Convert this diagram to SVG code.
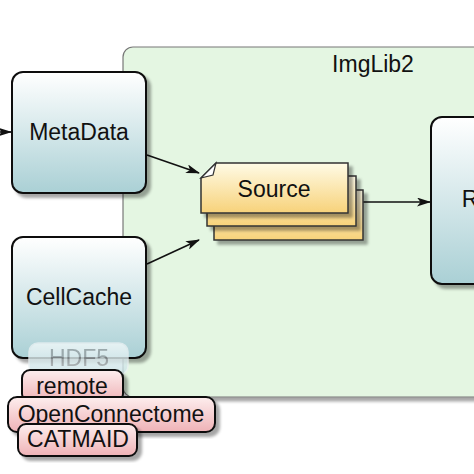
<svg xmlns="http://www.w3.org/2000/svg" width="474" height="474" viewBox="0 0 474 474">
<defs>
<linearGradient id="gBlue" x1="0" y1="0" x2="0" y2="1">
<stop offset="0" stop-color="#ffffff"/>
<stop offset="1" stop-color="#aad0d5"/>
</linearGradient>
<linearGradient id="gHdf" x1="0" y1="0" x2="0" y2="1">
<stop offset="0" stop-color="#f4fafb"/>
<stop offset="1" stop-color="#c6e0e4"/>
</linearGradient>
<linearGradient id="gPink" x1="0" y1="0" x2="0" y2="1">
<stop offset="0" stop-color="#fdeeee"/>
<stop offset="1" stop-color="#efb2b6"/>
</linearGradient>
<linearGradient id="gYel" x1="0" y1="0" x2="0" y2="1">
<stop offset="0" stop-color="#fffbe6"/>
<stop offset="1" stop-color="#f7d27a"/>
</linearGradient>
<marker id="arr" viewBox="0 0 14 9" refX="13" refY="4.5" markerWidth="14" markerHeight="9" markerUnits="userSpaceOnUse" orient="auto">
<path d="M0,0 L14,4.5 L0,9 L3.5,4.5 Z" fill="#111"/>
</marker>
<filter id="sh" x="-10%" y="-10%" width="130%" height="130%">
<feGaussianBlur in="SourceAlpha" stdDeviation="1.5"/>
<feOffset dx="4" dy="4"/>
<feComponentTransfer><feFuncA type="linear" slope="0.35"/></feComponentTransfer>
<feMerge><feMergeNode/><feMergeNode in="SourceGraphic"/></feMerge>
</filter>
</defs>
<style>
.lbl{font-family:"Liberation Sans",Arial,Helvetica,sans-serif;font-size:23px;fill:#111;text-anchor:middle}
.box{stroke:#111;stroke-width:2}
.conn{stroke:#111;stroke-width:1.6;fill:none;marker-end:url(#arr)}
</style>
<rect width="474" height="474" fill="#ffffff"/>

<g id="imglib2">
<rect x="123" y="47" width="370" height="350" rx="10" fill="#e4f6e2" stroke="#777" stroke-width="1.2" filter="url(#sh)"/>
<text class="lbl" x="373" y="72">ImgLib2</text>
</g>

<g id="connectors">
<line class="conn" x1="0" y1="132" x2="11" y2="132"/>
<line class="conn" x1="147" y1="155" x2="199" y2="173"/>
<line class="conn" x1="147" y1="264" x2="199" y2="240"/>
<line class="conn" x1="363" y1="202" x2="430" y2="202"/>
</g>

<g id="metadata">
<rect class="box" x="12" y="72" width="134" height="121" rx="11" fill="url(#gBlue)" filter="url(#sh)"/>
<text class="lbl" x="79" y="140">MetaData</text>
</g>

<g id="cellcache">
<rect class="box" x="12" y="237" width="134" height="121" rx="11" fill="url(#gBlue)" filter="url(#sh)"/>
<text class="lbl" x="79" y="305">CellCache</text>
</g>

<g id="source">
<g filter="url(#sh)">
<rect x="214" y="190" width="149" height="50" fill="url(#gYel)" stroke="#333" stroke-width="1.5"/>
</g>
<g filter="url(#sh)">
<rect x="207" y="176" width="149" height="50" fill="url(#gYel)" stroke="#333" stroke-width="1.5"/>
</g>
<g filter="url(#sh)">
<path d="M216,163 H348 V213 H201 V178 Z" fill="url(#gYel)" stroke="#333" stroke-width="1.5"/>
<path d="M216,163 L213,175 L201,178 Z" fill="#fff" stroke="#333" stroke-width="1.2"/>
</g>
<text class="lbl" x="274" y="197">Source</text>
</g>

<g id="r">
<rect class="box" x="431" y="117" width="70" height="167" rx="11" fill="url(#gBlue)" filter="url(#sh)"/>
<text class="lbl" x="470" y="207">R</text>
</g>

<g id="hdf5" opacity="0.8">
<rect x="29" y="343" width="99" height="32" rx="9" fill="url(#gHdf)" stroke="#e8f0f2" stroke-width="1.5"/>
<text class="lbl" x="79" y="366" style="fill:#969fa2">HDF5</text>
</g>

<g id="remote">
<rect class="box" x="22" y="370" width="101" height="32" rx="8" fill="url(#gPink)" filter="url(#sh)"/>
<text class="lbl" x="72" y="394">remote</text>
</g>

<g id="openconnectome">
<rect class="box" x="8" y="397" width="207" height="35" rx="9" fill="url(#gPink)" filter="url(#sh)"/>
<text class="lbl" x="111" y="422">OpenConnectome</text>
</g>

<g id="catmaid">
<rect class="box" x="18" y="424" width="119" height="32" rx="8" fill="url(#gPink)" filter="url(#sh)"/>
<text class="lbl" x="78" y="447">CATMAID</text>
</g>
</svg>
